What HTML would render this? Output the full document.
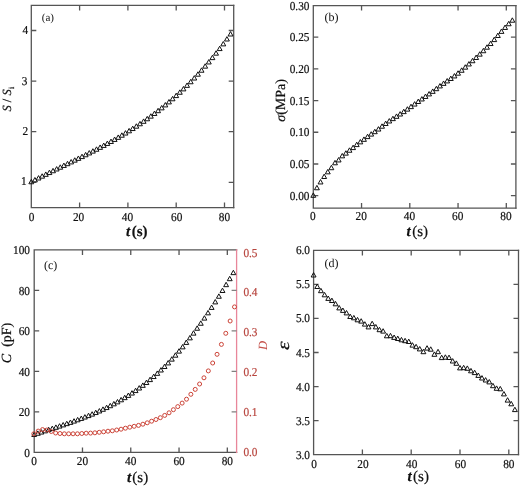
<!DOCTYPE html><html><head><meta charset="utf-8"><style>html,body{margin:0;padding:0;background:#fff;}svg{display:block;} text{stroke:#111;stroke-width:0.2px;} text.r{stroke:#b8463f;}</style></head><body><svg width="520" height="486" viewBox="0 0 520 486" font-family="'Liberation Serif', 'Times New Roman', serif" fill="#111" text-rendering="geometricPrecision">
<rect width="520" height="486" fill="#fff"/>
<path d="M31.3,5.4H233.7M31.3,207.6H233.7M31.3,5.4V207.6" stroke="#555" stroke-width="1.3" fill="none" stroke-linecap="square"/>
<path d="M233.7,5.4V207.6" stroke="#555" stroke-width="1.3" fill="none" stroke-linecap="square"/>
<path d="M79.60,207.6V202.6M79.60,5.4V10.4M127.90,207.6V202.6M127.90,5.4V10.4M176.20,207.6V202.6M176.20,5.4V10.4M224.50,207.6V202.6M224.50,5.4V10.4M31.3,182.30H36.3M233.7,182.30H228.7M31.3,131.70H36.3M233.7,131.70H228.7M31.3,81.10H36.3M233.7,81.10H228.7M31.3,30.50H36.3M233.7,30.50H228.7" stroke="#555" stroke-width="1.3" fill="none"/>
<text transform="translate(31.50,221.29) scale(1,1.07)" font-size="11.3" text-anchor="middle">0</text>
<text transform="translate(78.60,221.29) scale(1,1.07)" font-size="11.3" text-anchor="middle">20</text>
<text transform="translate(127.50,221.29) scale(1,1.07)" font-size="11.3" text-anchor="middle">40</text>
<text transform="translate(176.70,221.29) scale(1,1.07)" font-size="11.3" text-anchor="middle">60</text>
<text transform="translate(224.50,221.29) scale(1,1.07)" font-size="11.3" text-anchor="middle">80</text>
<text transform="translate(26.60,185.39) scale(1,1.07)" font-size="11.3" text-anchor="end">1</text>
<text transform="translate(28.20,134.99) scale(1,1.07)" font-size="11.3" text-anchor="end">2</text>
<text transform="translate(27.40,85.49) scale(1,1.07)" font-size="11.3" text-anchor="end">3</text>
<text transform="translate(28.20,34.29) scale(1,1.07)" font-size="11.3" text-anchor="end">4</text>
<path d="M31.30,179.36L33.75,183.76L28.85,183.76ZM34.92,177.47L37.37,181.87L32.47,181.87ZM38.55,175.61L41.00,180.01L36.09,180.01ZM42.17,173.77L44.62,178.17L39.72,178.17ZM45.79,171.95L48.24,176.35L43.34,176.35ZM49.41,170.15L51.86,174.55L46.96,174.55ZM53.03,168.36L55.48,172.76L50.58,172.76ZM56.66,166.58L59.11,170.98L54.21,170.98ZM60.28,164.81L62.73,169.21L57.83,169.21ZM63.90,163.05L66.35,167.45L61.45,167.45ZM67.53,161.28L69.98,165.68L65.08,165.68ZM71.15,159.52L73.60,163.92L68.70,163.92ZM74.77,157.75L77.22,162.15L72.32,162.15ZM78.39,155.97L80.84,160.37L75.94,160.37ZM82.02,154.18L84.47,158.58L79.56,158.58ZM85.64,152.38L88.09,156.78L83.19,156.78ZM89.26,150.55L91.71,154.95L86.81,154.95ZM92.88,148.71L95.33,153.11L90.43,153.11ZM96.50,146.84L98.95,151.24L94.05,151.24ZM100.13,144.95L102.58,149.35L97.68,149.35ZM103.75,143.02L106.20,147.42L101.30,147.42ZM107.37,141.06L109.82,145.46L104.92,145.46ZM111.00,139.07L113.45,143.47L108.55,143.47ZM114.62,137.03L117.07,141.43L112.17,141.43ZM118.24,134.95L120.69,139.35L115.79,139.35ZM121.86,132.82L124.31,137.22L119.41,137.22ZM125.48,130.65L127.94,135.05L123.03,135.05ZM129.11,128.42L131.56,132.82L126.66,132.82ZM132.73,126.14L135.18,130.54L130.28,130.54ZM136.35,123.79L138.80,128.19L133.90,128.19ZM139.97,121.38L142.42,125.78L137.53,125.78ZM143.60,118.91L146.05,123.31L141.15,123.31ZM147.22,116.37L149.67,120.77L144.77,120.77ZM150.84,113.76L153.29,118.16L148.39,118.16ZM154.47,111.07L156.91,115.47L152.02,115.47ZM158.09,108.30L160.54,112.70L155.64,112.70ZM161.71,105.46L164.16,109.86L159.26,109.86ZM165.33,102.52L167.78,106.92L162.88,106.92ZM168.96,99.50L171.41,103.90L166.51,103.90ZM172.58,96.39L175.03,100.79L170.13,100.79ZM176.20,93.18L178.65,97.58L173.75,97.58ZM179.82,89.88L182.27,94.28L177.37,94.28ZM183.45,86.48L185.90,90.88L181.00,90.88ZM187.07,82.97L189.52,87.37L184.62,87.37ZM190.69,79.35L193.14,83.75L188.24,83.75ZM194.31,75.63L196.76,80.03L191.86,80.03ZM197.94,71.79L200.38,76.19L195.49,76.19ZM201.56,67.83L204.01,72.23L199.11,72.23ZM205.18,63.76L207.63,68.16L202.73,68.16ZM208.80,59.56L211.25,63.96L206.35,63.96ZM212.43,55.23L214.88,59.63L209.98,59.63ZM216.05,50.78L218.50,55.18L213.60,55.18ZM219.67,46.19L222.12,50.59L217.22,50.59ZM223.29,41.47L225.74,45.87L220.84,45.87ZM226.92,36.61L229.37,41.01L224.47,41.01ZM230.54,31.60L232.99,36.00L228.09,36.00Z" fill="none" stroke="#111" stroke-width="1.0"/>
<text x="41.8" y="20.5" font-size="11" style="stroke:none">(a)</text>
<text transform="translate(10.8,99.2) rotate(-90)" font-size="12.5" text-anchor="middle"><tspan font-style="italic">S</tspan> / <tspan font-style="italic">S</tspan><tspan font-size="8" dy="3.2" dx="0.3">i</tspan></text>
<text x="126" y="235.6" font-size="15"><tspan font-style="italic" font-weight="bold">t</tspan><tspan font-weight="bold" dx="1.5">(s)</tspan></text>
<path d="M313.3,5.55H515.9M313.3,208.1H515.9M313.3,5.55V208.1" stroke="#555" stroke-width="1.3" fill="none" stroke-linecap="square"/>
<path d="M515.9,5.55V208.1" stroke="#555" stroke-width="1.3" fill="none" stroke-linecap="square"/>
<path d="M361.55,208.1V203.1M361.55,5.55V10.55M409.80,208.1V203.1M409.80,5.55V10.55M458.05,208.1V203.1M458.05,5.55V10.55M506.30,208.1V203.1M506.30,5.55V10.55M313.3,195.70H318.3M515.9,195.70H510.9M313.3,163.98H318.3M515.9,163.98H510.9M313.3,132.27H318.3M515.9,132.27H510.9M313.3,100.55H318.3M515.9,100.55H510.9M313.3,68.84H318.3M515.9,68.84H510.9M313.3,37.12H318.3M515.9,37.12H510.9" stroke="#555" stroke-width="1.3" fill="none"/>
<text transform="translate(312.90,219.69) scale(1,1.07)" font-size="11.3" text-anchor="middle">0</text>
<text transform="translate(361.15,219.69) scale(1,1.07)" font-size="11.3" text-anchor="middle">20</text>
<text transform="translate(409.40,219.69) scale(1,1.07)" font-size="11.3" text-anchor="middle">40</text>
<text transform="translate(457.65,219.69) scale(1,1.07)" font-size="11.3" text-anchor="middle">60</text>
<text transform="translate(505.90,219.69) scale(1,1.07)" font-size="11.3" text-anchor="middle">80</text>
<text transform="translate(309.50,199.89) scale(1,1.07)" font-size="11.3" text-anchor="end">0.00</text>
<text transform="translate(309.50,168.17) scale(1,1.07)" font-size="11.3" text-anchor="end">0.05</text>
<text transform="translate(309.50,136.46) scale(1,1.07)" font-size="11.3" text-anchor="end">0.10</text>
<text transform="translate(309.50,104.74) scale(1,1.07)" font-size="11.3" text-anchor="end">0.15</text>
<text transform="translate(309.50,73.03) scale(1,1.07)" font-size="11.3" text-anchor="end">0.20</text>
<text transform="translate(309.50,41.31) scale(1,1.07)" font-size="11.3" text-anchor="end">0.25</text>
<text transform="translate(309.50,9.60) scale(1,1.07)" font-size="11.3" text-anchor="end">0.30</text>
<path d="M313.30,192.90L315.75,197.30L310.85,197.30ZM316.92,185.37L319.37,189.77L314.47,189.77ZM320.54,179.55L322.99,183.95L318.09,183.95ZM324.16,174.10L326.61,178.50L321.71,178.50ZM327.78,169.43L330.23,173.83L325.33,173.83ZM331.39,165.31L333.84,169.71L328.94,169.71ZM335.01,160.39L337.46,164.79L332.56,164.79ZM338.63,157.55L341.08,161.95L336.18,161.95ZM342.25,153.44L344.70,157.84L339.80,157.84ZM345.87,150.75L348.32,155.15L343.42,155.15ZM349.49,147.84L351.94,152.24L347.04,152.24ZM353.11,145.18L355.56,149.58L350.66,149.58ZM356.73,142.18L359.18,146.58L354.28,146.58ZM360.34,139.47L362.79,143.87L357.89,143.87ZM363.96,136.93L366.41,141.33L361.51,141.33ZM367.58,134.20L370.03,138.60L365.13,138.60ZM371.20,131.70L373.65,136.10L368.75,136.10ZM374.82,129.28L377.27,133.68L372.37,133.68ZM378.44,126.65L380.89,131.05L375.99,131.05ZM382.06,123.84L384.51,128.24L379.61,128.24ZM385.68,121.09L388.12,125.49L383.23,125.49ZM389.29,118.59L391.74,122.99L386.84,122.99ZM392.91,116.23L395.36,120.63L390.46,120.63ZM396.53,113.93L398.98,118.33L394.08,118.33ZM400.15,111.62L402.60,116.02L397.70,116.02ZM403.77,109.21L406.22,113.61L401.32,113.61ZM407.39,106.73L409.84,111.13L404.94,111.13ZM411.01,104.21L413.46,108.61L408.56,108.61ZM414.62,101.66L417.07,106.06L412.18,106.06ZM418.24,99.11L420.69,103.51L415.79,103.51ZM421.86,96.58L424.31,100.98L419.41,100.98ZM425.48,94.06L427.93,98.46L423.03,98.46ZM429.10,91.52L431.55,95.92L426.65,95.92ZM432.72,88.95L435.17,93.35L430.27,93.35ZM436.34,86.30L438.79,90.70L433.89,90.70ZM439.96,83.53L442.41,87.93L437.51,87.93ZM443.58,80.97L446.03,85.37L441.13,85.37ZM447.19,78.53L449.64,82.93L444.74,82.93ZM450.81,76.09L453.26,80.49L448.36,80.49ZM454.43,73.54L456.88,77.94L451.98,77.94ZM458.05,70.79L460.50,75.19L455.60,75.19ZM461.67,67.85L464.12,72.25L459.22,72.25ZM465.29,64.76L467.74,69.16L462.84,69.16ZM468.91,61.57L471.36,65.97L466.46,65.97ZM472.52,58.34L474.97,62.74L470.07,62.74ZM476.14,55.07L478.59,59.47L473.69,59.47ZM479.76,51.75L482.21,56.15L477.31,56.15ZM483.38,48.34L485.83,52.74L480.93,52.74ZM487.00,44.81L489.45,49.21L484.55,49.21ZM490.62,41.14L493.07,45.54L488.17,45.54ZM494.24,37.20L496.69,41.60L491.79,41.60ZM497.86,33.09L500.31,37.49L495.41,37.49ZM501.48,28.98L503.93,33.38L499.03,33.38ZM505.09,25.04L507.54,29.44L502.64,29.44ZM508.71,21.35L511.16,25.75L506.26,25.75ZM512.33,17.82L514.78,22.22L509.88,22.22Z" fill="none" stroke="#111" stroke-width="1.0"/>
<text x="324.4" y="21.4" font-size="12" style="stroke:none">(b)</text>
<text transform="translate(285.0,100.4) rotate(-90)" font-size="14" text-anchor="middle"><tspan font-style="italic">σ</tspan>(MPa)</text>
<text x="406.5" y="235.6" font-size="15"><tspan font-style="italic" font-weight="bold">t</tspan><tspan dx="1.6">(s)</tspan></text>
<path d="M34.2,249.9H236.6M34.2,452.4H236.6M34.2,249.9V452.4" stroke="#555" stroke-width="1.3" fill="none" stroke-linecap="square"/>
<path d="M236.6,249.9V452.4" stroke="#e8869a" stroke-width="1.3" fill="none" stroke-linecap="square"/>
<path d="M82.48,452.4V447.4M82.48,249.9V254.9M130.76,452.4V447.4M130.76,249.9V254.9M179.04,452.4V447.4M179.04,249.9V254.9M227.32,452.4V447.4M227.32,249.9V254.9M34.2,411.90H39.2M34.2,371.40H39.2M34.2,330.90H39.2M34.2,290.40H39.2" stroke="#555" stroke-width="1.3" fill="none"/>
<path d="M236.6,411.90H231.6M236.6,371.40H231.6M236.6,330.90H231.6M236.6,290.40H231.6" stroke="#808080" stroke-width="1.1" fill="none"/>
<text transform="translate(34.20,465.39) scale(1,1.07)" font-size="11.3" text-anchor="middle">0</text>
<text transform="translate(82.48,465.39) scale(1,1.07)" font-size="11.3" text-anchor="middle">20</text>
<text transform="translate(130.76,465.39) scale(1,1.07)" font-size="11.3" text-anchor="middle">40</text>
<text transform="translate(179.04,465.39) scale(1,1.07)" font-size="11.3" text-anchor="middle">60</text>
<text transform="translate(227.32,465.39) scale(1,1.07)" font-size="11.3" text-anchor="middle">80</text>
<text transform="translate(30.00,456.79) scale(1,1.07)" font-size="11.3" text-anchor="end">0</text>
<text transform="translate(30.00,416.29) scale(1,1.07)" font-size="11.3" text-anchor="end">20</text>
<text transform="translate(30.00,375.79) scale(1,1.07)" font-size="11.3" text-anchor="end">40</text>
<text transform="translate(30.00,335.29) scale(1,1.07)" font-size="11.3" text-anchor="end">60</text>
<text transform="translate(30.00,294.79) scale(1,1.07)" font-size="11.3" text-anchor="end">80</text>
<text transform="translate(30.00,254.29) scale(1,1.07)" font-size="11.3" text-anchor="end">100</text>
<text transform="translate(243.40,455.59) scale(1,1.07)" font-size="11.3" text-anchor="start" fill="#b8463f" class="r">0.0</text>
<text transform="translate(243.40,415.81) scale(1,1.07)" font-size="11.3" text-anchor="start" fill="#b8463f" class="r">0.1</text>
<text transform="translate(243.40,376.03) scale(1,1.07)" font-size="11.3" text-anchor="start" fill="#b8463f" class="r">0.2</text>
<text transform="translate(243.40,336.25) scale(1,1.07)" font-size="11.3" text-anchor="start" fill="#b8463f" class="r">0.3</text>
<text transform="translate(243.40,296.47) scale(1,1.07)" font-size="11.3" text-anchor="start" fill="#b8463f" class="r">0.4</text>
<text transform="translate(243.40,256.69) scale(1,1.07)" font-size="11.3" text-anchor="start" fill="#b8463f" class="r">0.5</text>
<path d="M34.20,432.09L36.65,436.49L31.75,436.49ZM37.82,430.87L40.27,435.27L35.37,435.27ZM41.44,429.66L43.89,434.06L38.99,434.06ZM45.06,428.47L47.51,432.87L42.61,432.87ZM48.68,427.28L51.13,431.68L46.23,431.68ZM52.31,426.09L54.76,430.49L49.86,430.49ZM55.93,424.90L58.38,429.30L53.48,429.30ZM59.55,423.69L62.00,428.09L57.10,428.09ZM63.17,422.48L65.62,426.88L60.72,426.88ZM66.79,421.24L69.24,425.64L64.34,425.64ZM70.41,419.99L72.86,424.39L67.96,424.39ZM74.03,418.70L76.48,423.10L71.58,423.10ZM77.65,417.39L80.10,421.79L75.20,421.79ZM81.27,416.03L83.72,420.43L78.82,420.43ZM84.89,414.64L87.34,419.04L82.44,419.04ZM88.52,413.20L90.97,417.60L86.07,417.60ZM92.14,411.71L94.59,416.11L89.69,416.11ZM95.76,410.16L98.21,414.56L93.31,414.56ZM99.38,408.56L101.83,412.96L96.93,412.96ZM103.00,406.89L105.45,411.29L100.55,411.29ZM106.62,405.15L109.07,409.55L104.17,409.55ZM110.24,403.33L112.69,407.73L107.79,407.73ZM113.86,401.44L116.31,405.84L111.41,405.84ZM117.48,399.47L119.93,403.87L115.03,403.87ZM121.10,397.41L123.55,401.81L118.65,401.81ZM124.73,395.25L127.18,399.65L122.28,399.65ZM128.35,393.00L130.80,397.40L125.90,397.40ZM131.97,390.65L134.42,395.05L129.52,395.05ZM135.59,388.19L138.04,392.59L133.14,392.59ZM139.21,385.62L141.66,390.02L136.76,390.02ZM142.83,382.93L145.28,387.33L140.38,387.33ZM146.45,380.13L148.90,384.53L144.00,384.53ZM150.07,377.20L152.52,381.60L147.62,381.60ZM153.69,374.14L156.14,378.54L151.24,378.54ZM157.31,370.94L159.76,375.34L154.86,375.34ZM160.94,367.61L163.38,372.01L158.49,372.01ZM164.56,364.13L167.01,368.53L162.11,368.53ZM168.18,360.51L170.63,364.91L165.73,364.91ZM171.80,356.73L174.25,361.13L169.35,361.13ZM175.42,352.80L177.87,357.20L172.97,357.20ZM179.04,348.71L181.49,353.11L176.59,353.11ZM182.66,344.45L185.11,348.85L180.21,348.85ZM186.28,340.03L188.73,344.43L183.83,344.43ZM189.90,335.45L192.35,339.85L187.45,339.85ZM193.52,330.73L195.97,335.13L191.07,335.13ZM197.15,325.86L199.60,330.26L194.70,330.26ZM200.77,320.85L203.22,325.25L198.32,325.25ZM204.39,315.70L206.84,320.10L201.94,320.10ZM208.01,310.43L210.46,314.83L205.56,314.83ZM211.63,305.02L214.08,309.42L209.18,309.42ZM215.25,299.50L217.70,303.90L212.80,303.90ZM218.87,293.86L221.32,298.26L216.42,298.26ZM222.49,288.11L224.94,292.51L220.04,292.51ZM226.11,282.26L228.56,286.66L223.66,286.66ZM229.73,276.30L232.18,280.70L227.28,280.70ZM233.36,270.25L235.81,274.65L230.91,274.65Z" fill="none" stroke="#111" stroke-width="1.0"/>
<g fill="none" stroke="#cc4438" stroke-width="1.0"><circle cx="33.80" cy="433.80" r="2.0"/><circle cx="38.16" cy="431.10" r="2.0"/><circle cx="42.53" cy="429.60" r="2.0"/><circle cx="46.89" cy="430.00" r="2.0"/><circle cx="51.25" cy="431.50" r="2.0"/><circle cx="55.62" cy="433.00" r="2.0"/><circle cx="59.98" cy="433.50" r="2.0"/><circle cx="64.34" cy="433.80" r="2.0"/><circle cx="68.70" cy="433.80" r="2.0"/><circle cx="73.07" cy="433.80" r="2.0"/><circle cx="77.43" cy="433.80" r="2.0"/><circle cx="81.79" cy="433.50" r="2.0"/><circle cx="86.16" cy="433.20" r="2.0"/><circle cx="90.52" cy="433.10" r="2.0"/><circle cx="94.88" cy="432.80" r="2.0"/><circle cx="99.25" cy="432.30" r="2.0"/><circle cx="103.61" cy="431.80" r="2.0"/><circle cx="107.97" cy="431.20" r="2.0"/><circle cx="112.33" cy="430.80" r="2.0"/><circle cx="116.70" cy="430.00" r="2.0"/><circle cx="121.06" cy="429.20" r="2.0"/><circle cx="125.42" cy="428.20" r="2.0"/><circle cx="129.79" cy="427.20" r="2.0"/><circle cx="134.15" cy="426.30" r="2.0"/><circle cx="138.51" cy="425.40" r="2.0"/><circle cx="142.88" cy="424.20" r="2.0"/><circle cx="147.24" cy="422.80" r="2.0"/><circle cx="151.60" cy="421.20" r="2.0"/><circle cx="155.97" cy="419.50" r="2.0"/><circle cx="160.33" cy="417.70" r="2.0"/><circle cx="164.69" cy="415.40" r="2.0"/><circle cx="169.05" cy="412.80" r="2.0"/><circle cx="173.42" cy="409.70" r="2.0"/><circle cx="177.78" cy="406.60" r="2.0"/><circle cx="182.14" cy="403.10" r="2.0"/><circle cx="186.51" cy="399.20" r="2.0"/><circle cx="190.87" cy="394.30" r="2.0"/><circle cx="195.23" cy="389.40" r="2.0"/><circle cx="199.60" cy="384.00" r="2.0"/><circle cx="203.96" cy="377.80" r="2.0"/><circle cx="208.32" cy="370.90" r="2.0"/><circle cx="212.68" cy="363.00" r="2.0"/><circle cx="217.05" cy="354.30" r="2.0"/><circle cx="221.41" cy="344.40" r="2.0"/><circle cx="225.77" cy="333.30" r="2.0"/><circle cx="230.14" cy="321.00" r="2.0"/><circle cx="234.50" cy="306.90" r="2.0"/></g>
<text x="43.9" y="268.6" font-size="12" style="stroke:none">(c)</text>
<text transform="translate(11.3,343) rotate(-90)" font-size="14" text-anchor="middle"><tspan font-style="italic">C</tspan><tspan dx="3.6"> </tspan>(pF)</text>
<text transform="translate(266.8,345.4) rotate(-90)" font-size="12.6" text-anchor="middle" font-style="italic" fill="#c4504a" style="stroke:none">D</text>
<text x="127" y="481.6" font-size="15"><tspan font-style="italic" font-weight="bold">t</tspan><tspan dx="1.2">(s)</tspan></text>
<path d="M313.6,250.4H518.5M313.6,454.6H518.5M313.6,250.4V454.6" stroke="#555" stroke-width="1.3" fill="none" stroke-linecap="square"/>
<path d="M518.5,250.4V454.6" stroke="#555" stroke-width="1.3" fill="none" stroke-linecap="square"/>
<path d="M362.40,454.6V449.6M362.40,250.4V255.4M411.20,454.6V449.6M411.20,250.4V255.4M460.00,454.6V449.6M460.00,250.4V255.4M508.80,454.6V449.6M508.80,250.4V255.4M313.6,420.57H318.6M518.5,420.57H513.5M313.6,386.54H318.6M518.5,386.54H513.5M313.6,352.50H318.6M518.5,352.50H513.5M313.6,318.47H318.6M518.5,318.47H513.5M313.6,284.44H318.6M518.5,284.44H513.5" stroke="#555" stroke-width="1.3" fill="none"/>
<text transform="translate(314.10,468.39) scale(1,1.07)" font-size="11.3" text-anchor="middle">0</text>
<text transform="translate(362.90,468.39) scale(1,1.07)" font-size="11.3" text-anchor="middle">20</text>
<text transform="translate(411.70,468.39) scale(1,1.07)" font-size="11.3" text-anchor="middle">40</text>
<text transform="translate(460.50,468.39) scale(1,1.07)" font-size="11.3" text-anchor="middle">60</text>
<text transform="translate(508.80,468.39) scale(1,1.07)" font-size="11.3" text-anchor="middle">80</text>
<text transform="translate(310.00,459.49) scale(1,1.07)" font-size="11.3" text-anchor="end">3.0</text>
<text transform="translate(310.00,425.19) scale(1,1.07)" font-size="11.3" text-anchor="end">3.5</text>
<text transform="translate(310.00,390.89) scale(1,1.07)" font-size="11.3" text-anchor="end">4.0</text>
<text transform="translate(310.00,356.59) scale(1,1.07)" font-size="11.3" text-anchor="end">4.5</text>
<text transform="translate(310.00,322.29) scale(1,1.07)" font-size="11.3" text-anchor="end">5.0</text>
<text transform="translate(310.00,287.99) scale(1,1.07)" font-size="11.3" text-anchor="end">5.5</text>
<text transform="translate(310.00,253.69) scale(1,1.07)" font-size="11.3" text-anchor="end">6.0</text>
<path d="M313.60,272.60L316.05,277.00L311.15,277.00ZM317.26,284.10L319.71,288.50L314.81,288.50ZM320.92,288.30L323.37,292.70L318.47,292.70ZM324.58,292.40L327.03,296.80L322.13,296.80ZM328.24,296.00L330.69,300.40L325.79,300.40ZM331.90,298.10L334.35,302.50L329.45,302.50ZM335.56,301.40L338.01,305.80L333.11,305.80ZM339.22,305.50L341.67,309.90L336.77,309.90ZM342.88,308.00L345.33,312.40L340.43,312.40ZM346.54,310.50L348.99,314.90L344.09,314.90ZM350.20,314.10L352.65,318.50L347.75,318.50ZM353.86,315.40L356.31,319.80L351.41,319.80ZM357.52,317.40L359.97,321.80L355.07,321.80ZM361.18,318.70L363.63,323.10L358.73,323.10ZM364.84,321.70L367.29,326.10L362.39,326.10ZM368.50,324.50L370.95,328.90L366.05,328.90ZM372.16,321.20L374.61,325.60L369.71,325.60ZM375.82,324.50L378.27,328.90L373.37,328.90ZM379.48,327.30L381.93,331.70L377.03,331.70ZM383.14,328.70L385.59,333.10L380.69,333.10ZM386.80,333.40L389.25,337.80L384.35,337.80ZM390.46,333.30L392.91,337.70L388.01,337.70ZM394.12,335.00L396.57,339.40L391.67,339.40ZM397.78,336.10L400.23,340.50L395.33,340.50ZM401.44,337.40L403.89,341.80L398.99,341.80ZM405.10,338.30L407.55,342.70L402.65,342.70ZM408.76,339.10L411.21,343.50L406.31,343.50ZM412.42,342.70L414.87,347.10L409.97,347.10ZM416.08,344.30L418.53,348.70L413.63,348.70ZM419.74,346.50L422.19,350.90L417.29,350.90ZM423.40,349.30L425.85,353.70L420.95,353.70ZM427.06,345.70L429.51,350.10L424.61,350.10ZM430.72,346.80L433.17,351.20L428.27,351.20ZM434.38,351.90L436.83,356.30L431.93,356.30ZM438.04,349.30L440.49,353.70L435.59,353.70ZM441.70,355.20L444.15,359.60L439.25,359.60ZM445.36,354.80L447.81,359.20L442.91,359.20ZM449.02,355.10L451.47,359.50L446.57,359.50ZM452.68,358.60L455.13,363.00L450.23,363.00ZM456.34,360.90L458.79,365.30L453.89,365.30ZM460.00,365.50L462.45,369.90L457.55,369.90ZM463.66,365.30L466.11,369.70L461.21,369.70ZM467.32,365.90L469.77,370.30L464.87,370.30ZM470.98,368.40L473.43,372.80L468.53,372.80ZM474.64,370.20L477.09,374.60L472.19,374.60ZM478.30,373.00L480.75,377.40L475.85,377.40ZM481.96,375.60L484.41,380.00L479.51,380.00ZM485.62,377.60L488.07,382.00L483.17,382.00ZM489.28,379.50L491.73,383.90L486.83,383.90ZM492.94,383.30L495.39,387.70L490.49,387.70ZM496.60,385.90L499.05,390.30L494.15,390.30ZM500.26,386.40L502.71,390.80L497.81,390.80ZM503.92,391.50L506.37,395.90L501.47,395.90ZM507.58,397.70L510.03,402.10L505.13,402.10ZM511.24,401.40L513.69,405.80L508.79,405.80ZM514.90,407.20L517.35,411.60L512.45,411.60Z" fill="none" stroke="#111" stroke-width="1.0"/>
<text x="324.4" y="267.4" font-size="12" style="stroke:none">(d)</text>
<text transform="translate(288.6,345.6) rotate(-90) scale(1.25,1)" font-size="17.5" text-anchor="middle" font-style="italic">ε</text>
<text x="407.4" y="481.4" font-size="15"><tspan font-style="italic" font-weight="bold">t</tspan><tspan dx="1.5">(s)</tspan></text>
</svg></body></html>
